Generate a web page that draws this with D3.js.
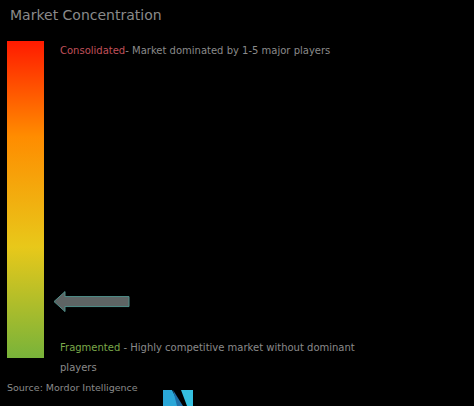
<!DOCTYPE html>
<html><head><meta charset="utf-8">
<script src="https://cdn.jsdelivr.net/npm/d3@7"></script>
<style>body{margin:0;background:#000}</style></head>
<body><div id="chart"></div>
<script>
// scale stops, top (consolidated) to bottom (fragmented)
const stopOffsets = [0, 0.3, 0.65, 1];
const stopColors = ["#ff1a00", "#ff8c00", "#e8c81a", "#78b33a"];
// market position on the concentration scale (1 = consolidated, 0 = fragmented)
const marketLevel = [0.178];
const labels = ["Consolidated", "Fragmented"];
const notes = ["- Market dominated by 1-5 major players", " - Highly competitive market without dominant", "players"];

const width = 474, height = 406;
const svg = d3.select("#chart").append("svg").attr("width", width).attr("height", height);
svg.append("rect").attr("width", width).attr("height", height).attr("fill", "#000");

const y = d3.scaleLinear().domain([0, 1]).range([358, 41]);
const font = "'DejaVu Sans', sans-serif";

svg.append("text").attr("x", 10).attr("y", 20).attr("fill", "#8a8a8a")
  .attr("font-family", font).attr("font-size", 14).text("Market Concentration");

const grad = svg.append("defs").append("linearGradient").attr("id", "g")
  .attr("x1", 0).attr("x2", 0).attr("y1", 0).attr("y2", 1);
grad.selectAll("stop").data(stopOffsets).enter().append("stop")
  .attr("offset", d => d).attr("stop-color", (d, i) => stopColors[i]);

svg.append("rect").attr("x", 7).attr("y", y(1)).attr("width", 37)
  .attr("height", y(0) - y(1)).attr("fill", "url(#g)");

// arrow
const ay = y(marketLevel[0]);
svg.append("path")
  .attr("d", `M54,${ay} L65,${ay-10} L65,${ay-5} L129,${ay-5} L129,${ay+5} L65,${ay+5} L65,${ay+10} Z`)
  .attr("fill", "#5e6464").attr("stroke", "#4f8f8a").attr("stroke-width", 1);

const t1 = svg.append("text").attr("x", 60).attr("y", 54).attr("font-family", font).attr("font-size", 10);
t1.append("tspan").attr("fill", "#c0505a").text(labels[0]);
t1.append("tspan").attr("fill", "#8a8a8a").text(notes[0]);

const t2 = svg.append("text").attr("x", 60).attr("y", 351).attr("font-family", font).attr("font-size", 10);
t2.append("tspan").attr("fill", "#7aa84a").text(labels[1]);
t2.append("tspan").attr("fill", "#8a8a8a").text(notes[1]);
svg.append("text").attr("x", 60).attr("y", 371).attr("font-family", font).attr("font-size", 10)
  .attr("fill", "#8a8a8a").text(notes[2]);

svg.append("text").attr("x", 7).attr("y", 391).attr("font-family", font).attr("font-size", 9.5)
  .attr("fill", "#8a8a8a").text("Source: Mordor Intelligence");

// logo
const lg = svg.append("g").attr("transform", "translate(163,390)");
lg.append("path").attr("d", "M0,0 L9,0 L14,10 L14,16 L0,16 Z").attr("fill", "#2aa7d8");
lg.append("path").attr("d", "M10,0 L20,16 L14,16 Z").attr("fill", "#1e6fa8");
lg.append("path").attr("d", "M18,0 L30,0 L30,16 L24,16 Z").attr("fill", "#35c0e0");
</script></body></html>
